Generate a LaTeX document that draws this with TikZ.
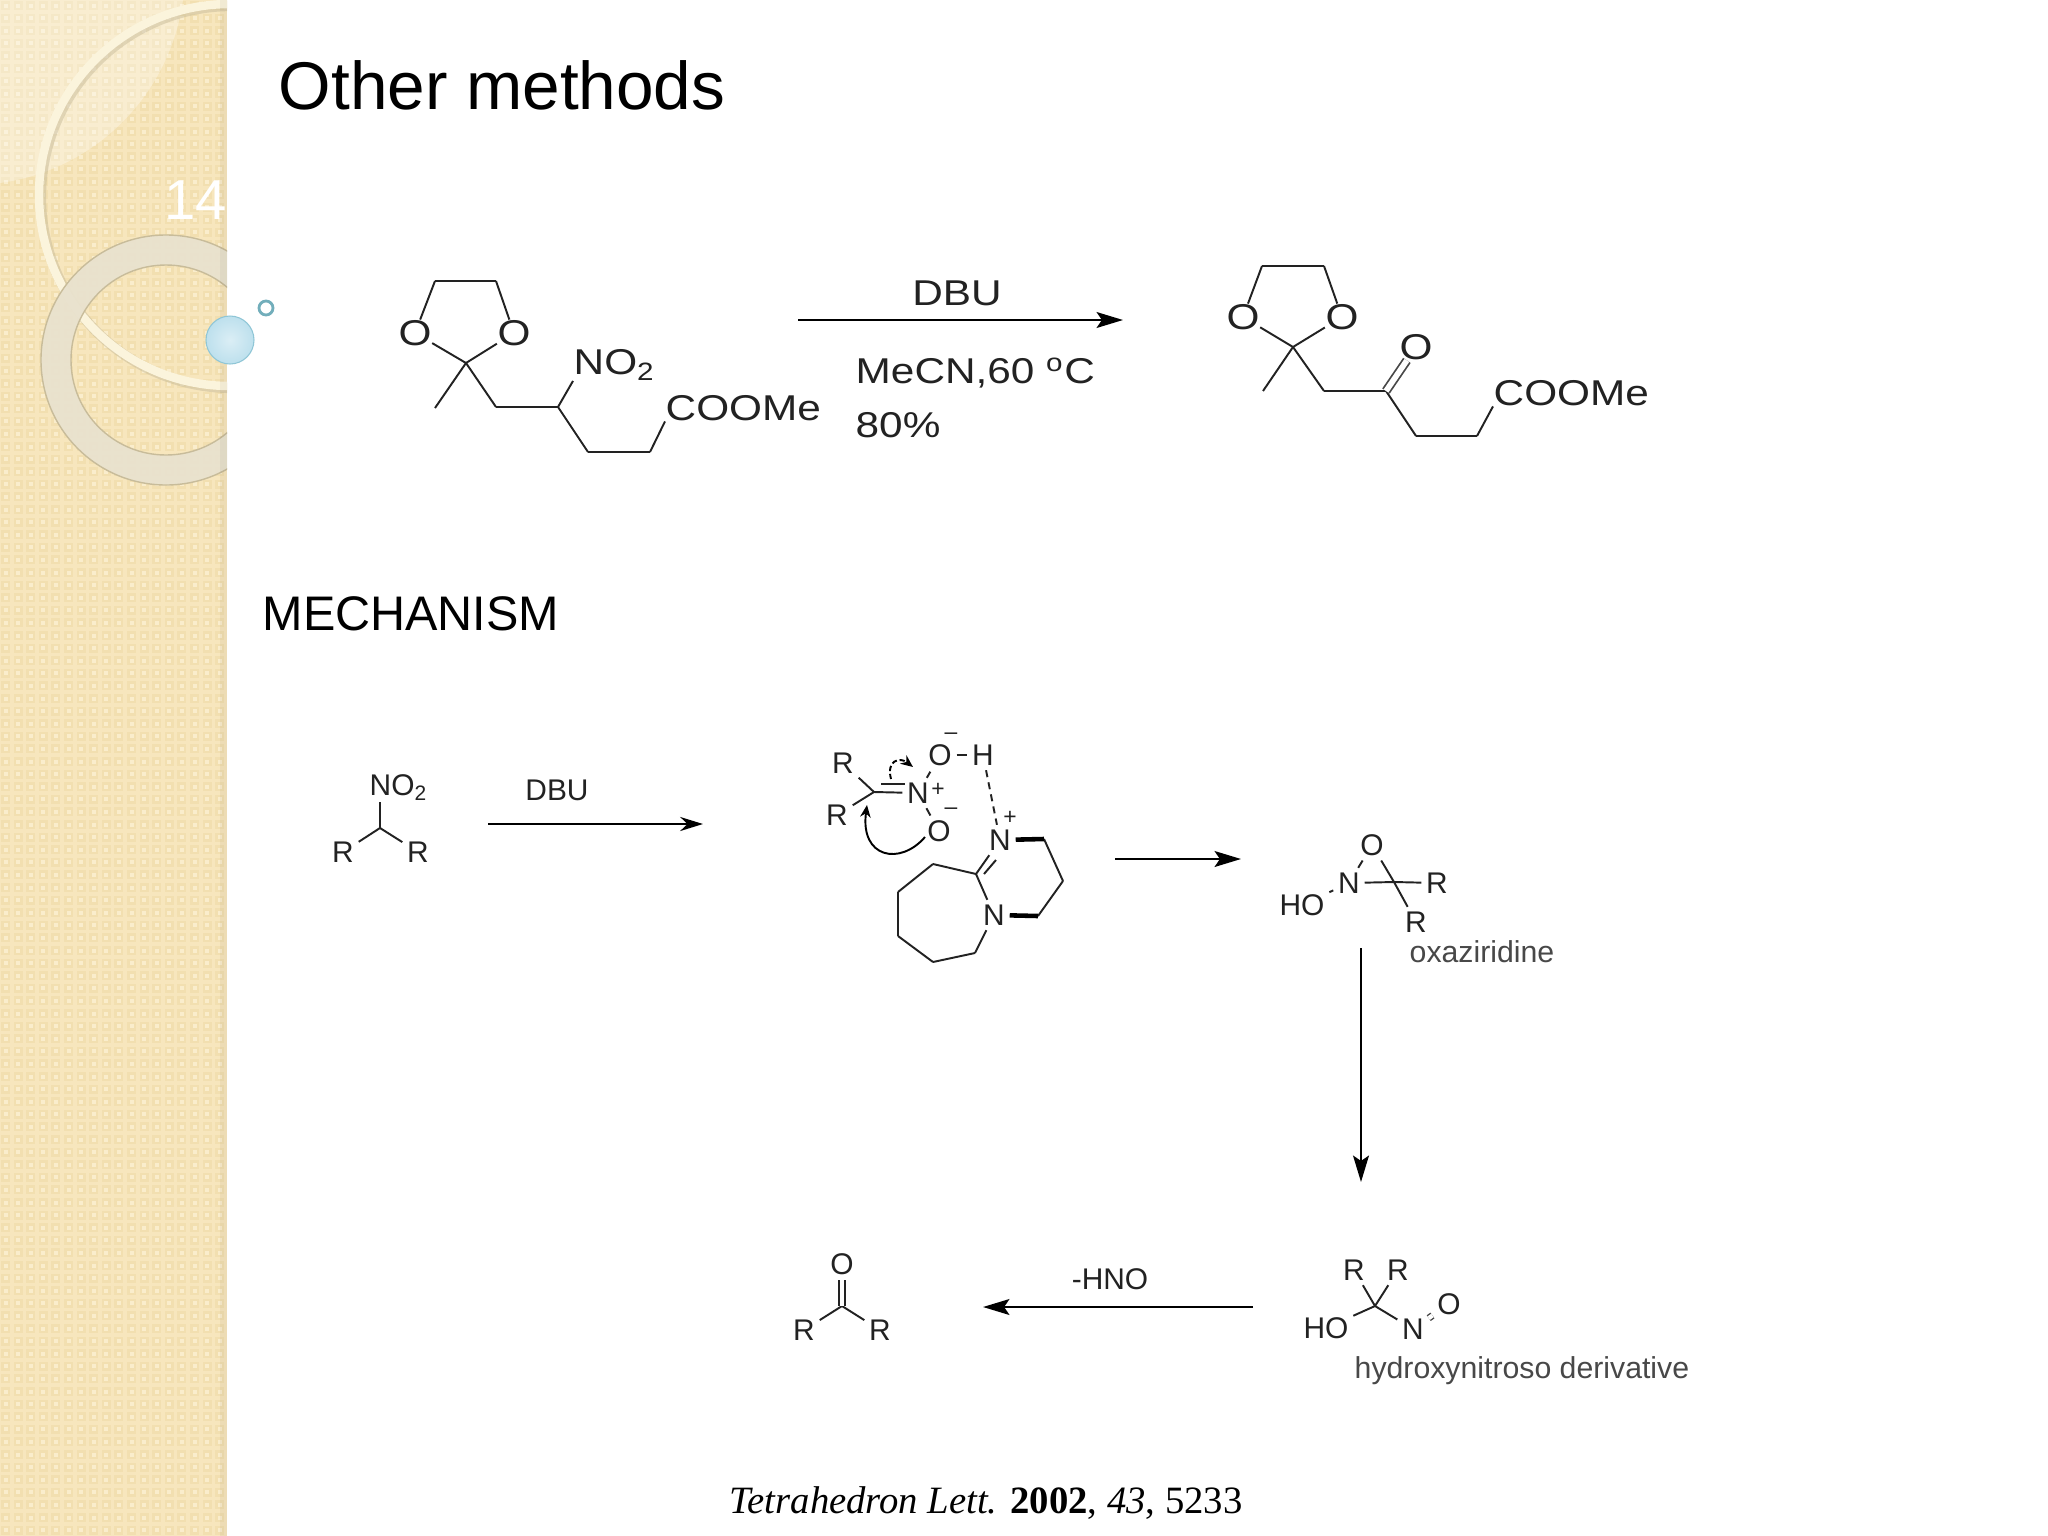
\documentclass[tikz,border=0pt]{standalone}
\usepackage{fontspec}
\setmainfont{Liberation Sans}
\newfontfamily\chemfont[FakeStretch=1.18]{Liberation Sans}
\newfontfamily\citefont{Liberation Serif}
\usetikzlibrary{arrows,arrows.meta}

\definecolor{panelbase}{HTML}{F7E6BD}
\definecolor{paneldark}{HTML}{F2DFB0}
\definecolor{panellight}{HTML}{FAEDCC}
\definecolor{ringthin}{HTML}{FBF4DC}
\definecolor{ringthick}{HTML}{E9E2CE}
\definecolor{ringedge}{HTML}{C8BC9A}
\definecolor{bubble}{HTML}{BDE0ED}
\definecolor{bubbleedge}{HTML}{8FC6D6}
\definecolor{smallring}{HTML}{72AEBB}
\definecolor{inkdark}{HTML}{222222}
\definecolor{inkgrey}{HTML}{484848}

\begin{document}
\begin{tikzpicture}[x=0.01cm,y=-0.01cm,>=stealth']
\tikzstyle{big atom}=[inner sep=0pt,text=inkdark,font=\chemfont\fontsize{10.2}{12}\selectfont]
\tikzstyle{atom}=[inner sep=1.2pt,text=inkdark,font=\fontsize{8.5}{10}\selectfont]
\tikzstyle{charge}=[inner sep=0pt,text=inkdark,font=\fontsize{6.5}{8}\selectfont]
\tikzstyle{caption}=[inner sep=0pt,text=inkgrey,font=\fontsize{8.6}{10}\selectfont]
\tikzstyle{bond}=[draw=inkdark,line width=0.55pt]
\tikzstyle{bold bond}=[draw=black,line width=1.3pt]
\tikzstyle{hatched}=[draw=inkgrey,line width=0.5pt,double,double distance=1.6pt]
\tikzstyle{dash bond}=[draw=inkdark,line width=0.55pt,dash pattern=on 2pt off 1.5pt]
\tikzstyle{reaction}=[draw=black,line width=0.6pt,-{Stealth[length=6.5pt,width=4pt]}]
\tikzstyle{reaction heavy}=[draw=black,line width=0.7pt,-{Stealth[length=7.5pt,width=4.5pt,inset=1.5pt]}]
\tikzstyle{push}=[draw=black,line width=0.55pt,-{Stealth[length=3.5pt,width=3pt]}]

\useasboundingbox (0,0) rectangle (2048,1536);
\fill[white] (0,0) rectangle (2048,1536);

% side panel
\fill[panelbase] (0,0) rectangle (227,1536);
\foreach \col in {0,...,17}
  \foreach \row in {0,...,122}{
    \fill[paneldark] (1+\col*12.6,1+\row*12.6) rectangle +(9,9);
    \fill[panellight] (3.5+\col*12.6,3.5+\row*12.6) rectangle +(4,4);
  }
\begin{scope}
\clip (0,0) rectangle (227,1536);
\fill[white,opacity=0.3] (0,0) -- (183,0) .. controls (170,95) and (95,170) .. (0,183) -- cycle;
\draw[ringedge,opacity=0.5,line width=2.9pt] (232,197) circle (191);
\draw[ringthin,line width=2.4pt] (230,195) circle (191);
\fill[ringthick,even odd rule,opacity=0.95] (166,360) circle (125) (166,360) circle (95);
\draw[ringedge,line width=0.4pt] (166,360) circle (125) (166,360) circle (95);
\fill[black,opacity=0.04] (220,0) rectangle (227,1536);
\end{scope}
\shade[inner color=bubble!55!white,outer color=bubble,draw=bubbleedge,line width=0.3pt] (230,340) circle (24);
\draw[smallring,line width=0.8pt] (266,308) circle (7);
\node[inner sep=0pt,text=white,font=\fontsize{16}{18}\selectfont] (pagenum) at (196,200) {14};

% headings
\node[inner sep=0pt,anchor=west,text=black,font=\fontsize{19.2}{22}\selectfont] (title) at (278,85) {Other methods};
\node[inner sep=0pt,anchor=west,text=black,font=\fontsize{13.8}{16}\selectfont] (mechanism) at (262,614) {MECHANISM};

% nitro ester
\node[big atom] (o1) at (415,333) {O};
\node[big atom] (o2) at (514,333) {O};
\coordinate (c1) at (435,281);
\coordinate (c2) at (496,281);
\coordinate (q1) at (466,363);
\coordinate (me1) at (435,408);
\coordinate (c3) at (496,407);
\coordinate (c4) at (558,407);
\coordinate (c5) at (588,452);
\coordinate (c6) at (650,452);
\node[big atom,anchor=west] (no1) at (573,365) {NO\textsubscript{2}};
\node[big atom,anchor=west] (est1) at (665,408) {COOMe};
\path[bond] (c1) edge (c2)
            edge (o1)
      (c2) edge (o2)
      (q1) edge (o1)
           edge (o2)
           edge (me1)
           edge (c3)
      (c3) edge (c4)
      (c4) edge (no1.south west)
           edge (c5)
      (c5) edge (c6)
      (c6) edge (est1.south west);

% first arrow
\coordinate (a1s) at (798,320);
\coordinate (a1e) at (1123,320);
\draw[reaction heavy] (a1s) -- (a1e);
\node[big atom] (dbu1) at (957,293) {DBU};
\node[big atom,anchor=west] (cond1) at (855,373) {MeCN,60 \textsuperscript{o}C};
\node[big atom,anchor=west] (cond2) at (855,425) {80\%};

% keto ester
\node[big atom] (o3) at (1243,317) {O};
\node[big atom] (o4) at (1342,317) {O};
\node[big atom] (o5) at (1416,347) {O};
\coordinate (d1) at (1262,266);
\coordinate (d2) at (1324,266);
\coordinate (q2) at (1293,347);
\coordinate (me2) at (1263,391);
\coordinate (d3) at (1324,391);
\coordinate (d4) at (1386,391);
\coordinate (d5) at (1416,436);
\coordinate (d6) at (1477,436);
\node[big atom,anchor=west] (est2) at (1493,393) {COOMe};
\path[bond] (d1) edge (d2)
            edge (o3)
      (d2) edge (o4)
      (q2) edge (o3)
           edge (o4)
           edge (me2)
           edge (d3)
      (d3) edge (d4)
      (d4) edge (d5)
      (d5) edge (d6)
      (d6) edge (est2.south west);
\draw[hatched] (d4) -- (o5);

% nitro compound
\coordinate (n1b) at (380,802);
\coordinate (n1c) at (380,828);
\node[atom,inner sep=0pt,anchor=west] (no3) at (369,788) {NO\textsubscript{2}};
\node[atom] (r1) at (343,852) {R};
\node[atom] (r2) at (418,852) {R};
\path[bond] (n1c) edge (n1b)
            edge (r1)
            edge (r2);
\node[atom] (dbu2) at (557,790) {DBU};
\coordinate (a2s) at (488,824);
\coordinate (a2e) at (703,824);
\draw[reaction] (a2s) -- (a2e);

% nitronate with base
\node[atom] (r3) at (843,763) {R};
\node[atom] (r4) at (837,815) {R};
\coordinate (e1) at (874,792);
\node[atom] (n2) at (918,793) {N};
\node[atom] (o6) at (940,755) {O};
\node[atom] (h1) at (983,755) {H};
\node[atom] (o7) at (939,831) {O};
\node[charge] (plus1) at (938,790) {+};
\node[charge] (minus1) at (951,736) {--};
\node[charge] (minus2) at (951,811) {--};
\node[atom] (n3) at (1000,840) {N};
\node[charge] (plus2) at (1010,818) {+};
\node[atom] (n4) at (994,915) {N};
\coordinate (f1) at (1044,839);
\coordinate (f2) at (1063,881);
\coordinate (f3) at (1038,916);
\coordinate (g0) at (976,874);
\coordinate (g1) at (933,864);
\coordinate (g2) at (898,892);
\coordinate (g3) at (898,936);
\coordinate (g4) at (933,962);
\coordinate (g5) at (975,953);
\coordinate (e2) at (881,784);
\coordinate (e3) at (905,784);
\coordinate (g6) at (984,874);
\coordinate (g7) at (996,860);
\path[bond] (e1) edge (r3)
            edge (r4)
            edge (n2)
      (n2) edge (o7)
      (o6) edge (h1)
      (e2) edge (e3)
      (g0) edge (n3)
           edge (n4)
           edge (g1)
      (g1) edge (g2)
      (g2) edge (g3)
      (g3) edge (g4)
      (g4) edge (g5)
      (g5) edge (n4)
      (f1) edge (f2)
      (f2) edge (f3)
      (g6) edge (g7);
\draw[bold bond] (n3) -- (f1);
\draw[bold bond] (n4) -- (f3);
\draw[dash bond] (n2) -- (o6);
\draw[dash bond] (h1) -- (n3);
\coordinate (p1) at (925,837);
\coordinate (p2) at (867,805);
\coordinate (p3) at (891,779);
\coordinate (p4) at (913,767);
\draw[push] (p1) .. controls (900,866) and (860,858) .. (p2);
\draw[push,dash pattern=on 1.5pt off 0.8pt] (p3) .. controls (886,760) and (900,757) .. (p4);

% second arrow
\coordinate (a3s) at (1115,859);
\coordinate (a3e) at (1241,859);
\draw[reaction heavy] (a3s) -- (a3e);

% oxaziridine
\node[atom] (o8) at (1372,845) {O};
\node[atom] (n5) at (1349,883) {N};
\coordinate (k1) at (1394,882);
\node[atom] (r5) at (1437,883) {R};
\node[atom] (r6) at (1416,922) {R};
\node[atom] (ho1) at (1302,905) {HO};
\path[bond] (k1) edge (n5)
            edge (o8)
            edge (r5)
            edge (r6)
      (n5) edge (o8)
           edge (ho1);
\node[caption,anchor=west] (oxa) at (1409,952) {oxaziridine};

% third arrow
\coordinate (a4s) at (1361,948);
\coordinate (a4e) at (1361,1182);
\draw[reaction heavy] (a4s) -- (a4e);

% nitroso
\node[atom] (r7) at (1354,1270) {R};
\node[atom] (r8) at (1398,1270) {R};
\coordinate (m1) at (1375,1306);
\node[atom] (ho2) at (1326,1328) {HO};
\node[atom] (n6) at (1413,1329) {N};
\node[atom] (o9) at (1449,1304) {O};
\path[bond] (m1) edge (r7)
            edge (r8)
            edge (ho2)
            edge (n6);
\draw[hatched,line width=0.4pt,double distance=1.2pt] (n6) -- (o9);
\node[caption,anchor=west] (nitroso) at (1354,1371) {hydroxynitroso derivative};

% last arrow
\coordinate (a5s) at (1253,1307);
\coordinate (a5e) at (983,1307);
\draw[reaction heavy] (a5s) -- (a5e);
\node[atom] (hno) at (1110,1279) {-HNO};

% ketone
\node[atom] (o10) at (842,1264) {O};
\coordinate (m2) at (842,1306);
\node[atom] (r9) at (804,1330) {R};
\node[atom] (r10) at (880,1330) {R};
\path[bond] (m2) edge (r9)
            edge (r10);
\draw[bond,double,double distance=1.4pt] (m2) -- (o10);

% reference
\node[inner sep=0pt,anchor=west,text=black,font=\citefont\fontsize{11}{13}\selectfont] (cite) at (729,1503) {\textit{Tetrahedron Lett.} \textbf{2002}, \textit{43}, 5233};
\end{tikzpicture}
\end{document}
